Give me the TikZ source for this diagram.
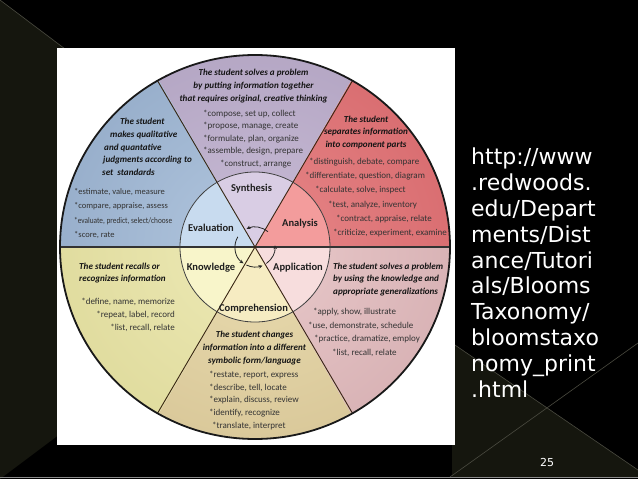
\documentclass[tikz,border=0pt]{standalone}
\usepackage{fontspec}
\usetikzlibrary{arrows.meta}

\newfontfamily\wheelfont{Carlito}
\newfontfamily\slidefont{DejaVu Sans}

\definecolor{slideolive}{HTML}{15160E}
\definecolor{slideline}{HTML}{4A4A40}
\definecolor{evalrim}{HTML}{7F98B9}
\definecolor{evalpale}{HTML}{C8DBEF}
\definecolor{synrim}{HTML}{A293B4}
\definecolor{synpale}{HTML}{D9CDE4}
\definecolor{anlrim}{HTML}{CC565B}
\definecolor{anlpale}{HTML}{F39C9C}
\definecolor{apprim}{HTML}{C99DA1}
\definecolor{apppale}{HTML}{F7DDDD}
\definecolor{comrim}{HTML}{CBB685}
\definecolor{compale}{HTML}{F6ECC2}
\definecolor{knwrim}{HTML}{D4CF88}
\definecolor{knwpale}{HTML}{F8F5CA}

\begin{document}
\begin{tikzpicture}[x=1pt, y=-1pt, line cap=round, line join=round,
    head/.style={font=\wheelfont\bfseries\itshape\fontsize{9.1}{12.6}\selectfont, text=black!92, inner sep=0pt},
    verbs/.style={font=\wheelfont\fontsize{9}{#1}\selectfont, text=black!80, inner sep=0pt},
    verbs/.default=12.7,
    level/.style={font=\wheelfont\bfseries\fontsize{10.5}{12}\selectfont, text=black!88, inner sep=0pt},
    cycle arrow/.style={-{Stealth[length=4pt, width=3.5pt]}, line width=0.8pt, black!85}]

  % slide background
  \useasboundingbox (0,0) rectangle (638,479);
  \fill[black] (0,0) rectangle (638,479);
  \fill[slideolive] (0,0) -- (319,240) -- (0,479) -- cycle;
  \fill[slideolive] (452,343) -- (638,470) -- (638,477) -- (452,477) -- cycle;
  \draw[slideline, line width=0.6pt] (0,0) -- (319,240);
  \draw[slideline, line width=0.6pt] (452,343) -- (638,470);
  \draw[slideline, line width=0.6pt] (450,477) -- (638,343);
  \draw[black!45, line width=0.8pt] (0,477.5) -- (638,477.5);
  \fill[white] (57,48) rectangle (455,445);

  % the wheel
  \begin{scope}[shift={(255,247)}, y=1pt]
    \coordinate (hub) at (0,0);
    \begin{scope}
      \clip (hub) ellipse [x radius=195, y radius=192];
      \foreach \a/\rim/\pale in {0/anlrim/anlpale, 60/synrim/synpale, 120/evalrim/evalpale,
                                 180/knwrim/knwpale, 240/comrim/compale, 300/apprim/apppale}
      {
        \begin{scope}
          \clip (0,0) -- (\a:400) -- (\a+60:400) -- cycle;
          \shade[inner color=\pale!70!\rim, outer color=\rim] (0,0) ellipse [x radius=390, y radius=384];
          \fill[\pale] (0,0) circle [radius=75];
        \end{scope}
      }
    \end{scope}
    \draw[black!80, line width=1.2pt] (180:195 and 192) -- (0:195 and 192);
    \draw[black!70!brown, line width=0.9pt] (120:195 and 192) -- (300:195 and 192);
    \draw[black!70!brown, line width=0.9pt] (60:195 and 192) -- (240:195 and 192);
    \draw[black!75, line width=0.8pt] (hub) circle [radius=75];
    \draw[black!90, line width=1.8pt] (hub) ellipse [x radius=195, y radius=192];

    % cycle of the levels
    \draw[cycle arrow] (150:20) arc[start angle=150, end angle=235, radius=20];
    \draw[cycle arrow] (245:20) arc[start angle=245, end angle=292, radius=20];
    \draw[cycle arrow] (305:20) arc[start angle=305, end angle=365, radius=20];
    \draw[cycle arrow] (50:20) arc[start angle=50, end angle=115, radius=20];
  \end{scope}

  % level names
  \node[level] (synthesis) at (251.5,189) {Synthesis};
  \node[level] (evaluation) at (211,228) {Evaluation};
  \node[level] (analysis) at (300,224) {Analysis};
  \node[level] (knowledge) at (211,268) {Knowledge};
  \node[level] (application) at (298,268) {Application};
  \node[level] (comprehension) at (253.5,309) {Comprehension};

  % synthesis
  \node[head, align=center] (synthhead) at (253.5,86)
    {The student solves a problem\\by putting information together\\that requires original, creative thinking};
  \node[verbs=12.5, align=left, anchor=west] (synthverbs) at (203,139)
    {*compose, set up, collect\\*propose, manage, create\\*formulate, plan, organize\\*assemble, design, prepare\\\hspace*{17pt}*construct, arrange};

  % evaluation
  \node[head, align=left, anchor=west] (evalhead) at (102,147)
    {\hspace*{18pt}The student\\\hspace*{8pt}makes qualitative\\\hspace*{2pt}and quantative\\\hspace*{1pt}judgments according to\\set~ standards};
  \node[verbs, font=\wheelfont\fontsize{8.5}{14.3}\selectfont, align=left, anchor=west] (evalverbs) at (74,213.5)
    {*estimate, value, measure\\*compare, appraise, assess\\\scalebox{0.86}[1]{*evaluate, predict, select/choose}\\*score, rate};

  % analysis
  \node[head, align=center] (anlhead) at (366,132.5)
    {The student\\separates information\\into component parts};
  \node[verbs=14.2, align=left, anchor=west] (anlverbs) at (305,197.5)
    {\hspace*{4pt}*distinguish, debate, compare\\*differentiate, question, diagram\\\hspace*{10pt}*calculate, solve, inspect\\\hspace*{23pt}*test, analyze, inventory\\\hspace*{31pt}*contract, appraise, relate\\\hspace*{28pt}*criticize, experiment, examine};

  % knowledge
  \node[head, align=left, anchor=west] (knwhead) at (79,273)
    {The student recalls or\\recognizes information};
  \node[verbs=13, align=right, anchor=east] (knwverbs) at (175,315)
    {*define, name, memorize\\*repeat, label, record\\*list, recall, relate};

  % application
  \node[head, align=left, anchor=west] (apphead) at (333,279.5)
    {The student solves a problem\\by using the knowledge and\\appropriate generalizations};
  \node[verbs=13.7, align=left, anchor=west] (appverbs) at (308,332.5)
    {\hspace*{5pt}*apply, show, illustrate\\*use, demonstrate, schedule\\\hspace*{6pt}*practice, dramatize, employ\\\hspace*{24pt}*list, recall, relate};

  % comprehension
  \node[head, align=center] (comhead) at (254.5,348)
    {The student changes\\information into a different\\symbolic form/language};
  \node[verbs=12.75, align=left, anchor=west] (comverbs) at (209,400.5)
    {*restate, report, express\\*describe, tell, locate\\*explain, discuss, review\\*identify, recognize\\\hspace*{3pt}*translate, interpret};

  % source and page
  \node[font=\slidefont\fontsize{22}{25.8}\selectfont, text=white, align=left, anchor=north west, inner sep=0pt] (source) at (471,148)
    {http://www\\.redwoods.\\edu/Depart\\ments/Dist\\ance/Tutori\\als/Blooms\\Taxonomy/\\bloomstaxo\\nomy\_print\\.html};
  \node[font=\slidefont\fontsize{11}{13}\selectfont, text=white!85, inner sep=0pt] (pagenum) at (547,462) {25};
\end{tikzpicture}
\end{document}
